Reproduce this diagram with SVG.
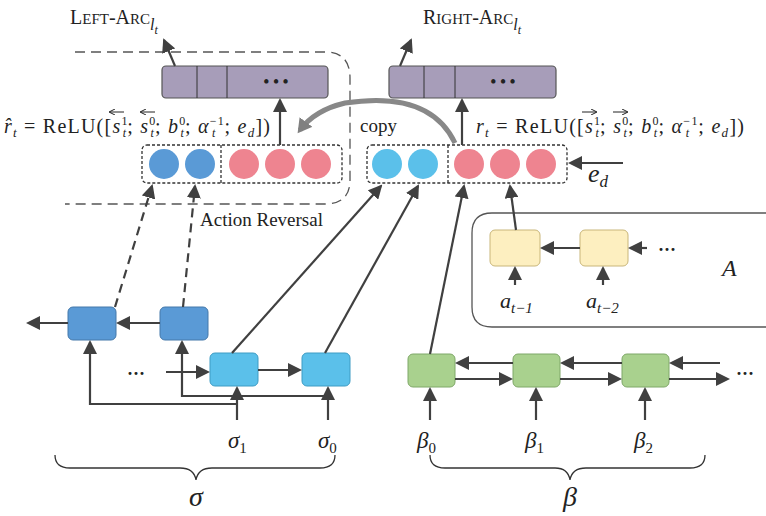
<svg xmlns="http://www.w3.org/2000/svg" width="766" height="516" viewBox="0 0 766 516">
<defs>
<marker id="ahg" markerWidth="16" markerHeight="16" refX="10" refY="8" orient="auto" markerUnits="userSpaceOnUse"><path d="M0,0 L14,8 L0,16 z" fill="#808080"/></marker>
<marker id="ahb" markerWidth="14" markerHeight="14" refX="12" refY="7" orient="auto" markerUnits="userSpaceOnUse"><path d="M0,0 L14,7 L0,14 z" fill="#404040"/></marker>
<marker id="sa" markerWidth="6" markerHeight="6" refX="5" refY="3" orient="auto" markerUnits="userSpaceOnUse"><path d="M0,0 L6,3 L0,6" fill="none" stroke="#222" stroke-width="1"/></marker>
</defs>
<style>
text{font-family:"Liberation Serif",serif;fill:#222}
.m{font-style:italic}
.ln{stroke:#404040;stroke-width:2.2;fill:none}
.arr{stroke:#404040;stroke-width:2.2;fill:none;marker-end:url(#ahb)}
.dsh{stroke:#404040;stroke-width:2.2;fill:none;stroke-dasharray:9,6;marker-end:url(#ahb)}
.pur{fill:#a79db9;stroke:#555;stroke-width:1.2}
.db{fill:#5a9ad6;stroke:#4478aa;stroke-width:1}
.lb{fill:#5bc0ea;stroke:#3e9cc4;stroke-width:1}
.gr{fill:#a9d18e;stroke:#7fa868;stroke-width:1}
.ye{fill:#fdefc0;stroke:#c9b67a;stroke-width:1}
.pk{fill:#ee8490}
.box{fill:none;stroke:#333;stroke-width:1.3;stroke-dasharray:3,2}
.va{stroke:#222;stroke-width:1;marker-end:url(#sa)}
</style>
<g id="region-left"><path d="M75,52 H325 Q350,52 350,78 V180 Q350,204 325,204 H65" fill="none" stroke="#555" stroke-width="1.3" stroke-dasharray="10,6"/></g>
<g id="region-A"><path d="M766,213 H492 Q472,213 472,233 V307 Q472,327 492,327 H766" fill="none" stroke="#555" stroke-width="1.3"/>
<text x="722" y="276" class="m" font-size="24">A</text></g>
<g id="left-out"><rect class="pur" x="162" y="66" width="166" height="32" rx="4"/><line x1="197" y1="66" x2="197" y2="98" stroke="#333"/><line x1="227" y1="66" x2="227" y2="98" stroke="#333"/><text x="276" y="87" text-anchor="middle" font-size="16" font-weight="bold">• • •</text></g>
<g id="right-out"><rect class="pur" x="389" y="66" width="167" height="32" rx="4"/><line x1="424" y1="66" x2="424" y2="98" stroke="#333"/><line x1="455" y1="66" x2="455" y2="98" stroke="#333"/><text x="503" y="87" text-anchor="middle" font-size="16" font-weight="bold">• • •</text></g>
<g id="left-vec"><rect class="box" x="142" y="145" width="200" height="38" rx="5"/><line x1="221" y1="145" x2="221" y2="183" class="box"/>
<circle cx="164" cy="164" r="15" fill="#5a9ad6"/><circle cx="200" cy="164" r="15" fill="#5a9ad6"/><circle class="pk" cx="244" cy="164" r="15"/><circle class="pk" cx="280" cy="164" r="15"/><circle class="pk" cx="316" cy="164" r="15"/></g>
<g id="right-vec"><rect class="box" x="367" y="145" width="200" height="38" rx="5"/><line x1="448" y1="145" x2="448" y2="183" class="box"/>
<circle cx="387" cy="164" r="15" fill="#5bc0ea"/><circle cx="423" cy="164" r="15" fill="#5bc0ea"/><circle class="pk" cx="469" cy="164" r="15"/><circle class="pk" cx="505" cy="164" r="15"/><circle class="pk" cx="541" cy="164" r="15"/></g>
<g id="stack-back"><rect class="db" x="68" y="307" width="48" height="33" rx="5"/><rect class="db" x="160" y="307" width="48" height="33" rx="5"/></g>
<g id="stack-fwd"><rect class="lb" x="210" y="353" width="48" height="33" rx="5"/><rect class="lb" x="302" y="353" width="48" height="33" rx="5"/></g>
<g id="buffer"><rect class="gr" x="408" y="354" width="47" height="33" rx="5"/><rect class="gr" x="513" y="354" width="47" height="33" rx="5"/><rect class="gr" x="622" y="354" width="47" height="33" rx="5"/></g>
<g id="actions"><rect class="ye" x="490" y="230" width="50" height="36" rx="5"/><rect class="ye" x="580" y="230" width="48" height="36" rx="5"/></g>
<g id="connectors">
<line class="arr" x1="175" y1="66" x2="164" y2="40"/>
<line class="arr" x1="400" y1="66" x2="411" y2="40"/>
<line class="arr" x1="280" y1="145" x2="280" y2="100"/>
<line class="arr" x1="462" y1="145" x2="462" y2="100"/>
<path d="M455,143 Q430,90 345,103 Q315,110 300,130" fill="none" stroke="#888" stroke-width="5" marker-end="url(#ahg)"/>
<line class="arr" x1="623" y1="163" x2="570" y2="163"/>
<line class="dsh" x1="115" y1="307" x2="152" y2="186"/>
<line class="dsh" x1="183" y1="307" x2="195" y2="186"/>
<line class="arr" x1="232" y1="353" x2="381" y2="186"/>
<line class="arr" x1="325" y1="353" x2="418" y2="186"/>
<line class="arr" x1="430" y1="354" x2="464" y2="186"/>
<line class="arr" x1="516" y1="230" x2="510" y2="186"/>
<line class="arr" x1="647" y1="248" x2="630" y2="248"/>
<line class="arr" x1="580" y1="248" x2="542" y2="248"/>
<line class="arr" x1="515" y1="285" x2="515" y2="268"/>
<line class="arr" x1="603" y1="285" x2="603" y2="268"/>
<line class="arr" x1="68" y1="323" x2="28" y2="323"/>
<line class="arr" x1="160" y1="323" x2="118" y2="323"/>
<line class="arr" x1="166" y1="372" x2="208" y2="372"/>
<line class="arr" x1="258" y1="370" x2="300" y2="370"/>
<polyline class="ln" points="237,404 90,404 90,350"/><line class="arr" x1="90" y1="352" x2="90" y2="342"/>
<polyline class="ln" points="328,396 182,396 182,350"/><line class="arr" x1="182" y1="352" x2="182" y2="342"/>
<line class="arr" x1="237" y1="420" x2="237" y2="388"/>
<line class="arr" x1="328" y1="420" x2="328" y2="388"/>
<line class="arr" x1="430" y1="420" x2="430" y2="389"/>
<line class="arr" x1="536" y1="420" x2="536" y2="389"/>
<line class="arr" x1="645" y1="420" x2="645" y2="389"/>
<line class="arr" x1="513" y1="363" x2="457" y2="363"/>
<line class="arr" x1="622" y1="363" x2="562" y2="363"/>
<line class="arr" x1="720" y1="363" x2="671" y2="363"/>
<line class="arr" x1="455" y1="379" x2="511" y2="379"/>
<line class="arr" x1="560" y1="379" x2="620" y2="379"/>
<line class="arr" x1="669" y1="379" x2="728" y2="379"/>
<path d="M55,455 Q55,468 70,468 H180 Q194,468 196,480 Q198,468 212,468 H320 Q335,468 335,455" fill="none" stroke="#333" stroke-width="1.3"/>
<path d="M430,455 Q430,468 445,468 H555 Q568,468 570,480 Q572,468 586,468 H690 Q705,468 705,455" fill="none" stroke="#333" stroke-width="1.3"/>
</g>
<g id="vec-arrows">
<line class="va" x1="124" y1="112" x2="110" y2="112"/>
<line class="va" x1="155" y1="112" x2="141" y2="112"/>
<line class="va" x1="582" y1="112" x2="596" y2="112"/>
<line class="va" x1="613" y1="112" x2="627" y2="112"/>
</g>
<g id="labels">
<text x="70" y="24" font-size="20">L<tspan font-size="15">EFT</tspan>-A<tspan font-size="15">RC</tspan><tspan class="m" font-size="16" dy="6">l</tspan><tspan class="m" font-size="12" dy="4">t</tspan></text>
<text x="423" y="24" font-size="20">R<tspan font-size="15">IGHT</tspan>-A<tspan font-size="15">RC</tspan><tspan class="m" font-size="16" dy="6">l</tspan><tspan class="m" font-size="12" dy="4">t</tspan></text>
<text x="4" y="133" font-size="20" textLength="266" lengthAdjust="spacing"><tspan class="m">r̂</tspan><tspan class="m" font-size="13" dy="4">t</tspan><tspan dy="-4"> = ReLU([</tspan><tspan class="m">s</tspan><tspan font-size="12" dy="-8">1</tspan><tspan class="m" font-size="12" dx="-6" dy="12">t</tspan><tspan dy="-4">; </tspan><tspan class="m">s</tspan><tspan font-size="12" dy="-8">0</tspan><tspan class="m" font-size="12" dx="-6" dy="12">t</tspan><tspan dy="-4">; </tspan><tspan class="m">b</tspan><tspan font-size="12" dy="-8">0</tspan><tspan class="m" font-size="12" dx="-6" dy="12">t</tspan><tspan dy="-4">; </tspan><tspan class="m">α</tspan><tspan font-size="12" dy="-8">−1</tspan><tspan class="m" font-size="12" dx="-13" dy="12">t</tspan><tspan dx="8" dy="-4">; </tspan><tspan class="m">e</tspan><tspan class="m" font-size="13" dy="4">d</tspan><tspan dy="-4">])</tspan></text>
<text x="476" y="133" font-size="20" textLength="268" lengthAdjust="spacing"><tspan class="m">r</tspan><tspan class="m" font-size="13" dy="4">t</tspan><tspan dy="-4"> = ReLU([</tspan><tspan class="m">s</tspan><tspan font-size="12" dy="-8">1</tspan><tspan class="m" font-size="12" dx="-6" dy="12">t</tspan><tspan dy="-4">; </tspan><tspan class="m">s</tspan><tspan font-size="12" dy="-8">0</tspan><tspan class="m" font-size="12" dx="-6" dy="12">t</tspan><tspan dy="-4">; </tspan><tspan class="m">b</tspan><tspan font-size="12" dy="-8">0</tspan><tspan class="m" font-size="12" dx="-6" dy="12">t</tspan><tspan dy="-4">; </tspan><tspan class="m">α</tspan><tspan font-size="12" dy="-8">−1</tspan><tspan class="m" font-size="12" dx="-13" dy="12">t</tspan><tspan dx="8" dy="-4">; </tspan><tspan class="m">e</tspan><tspan class="m" font-size="13" dy="4">d</tspan><tspan dy="-4">])</tspan></text>
<text x="360" y="132" font-size="19">copy</text>
<text x="200" y="226" font-size="19">Action Reversal</text>
<text x="588" y="182" class="m" font-size="26">e<tspan font-size="17" dy="5">d</tspan></text>
<text x="500" y="308" class="m" font-size="22">a<tspan font-size="15" dy="5">t−1</tspan></text>
<text x="586" y="308" class="m" font-size="22">a<tspan font-size="15" dy="5">t−2</tspan></text>
<text x="127" y="380" font-size="18" font-weight="bold">···</text>
<text x="736" y="380" font-size="18" font-weight="bold">···</text>
<text x="667" y="256" font-size="18" font-weight="bold" text-anchor="middle">···</text>
<text x="228" y="448" class="m" font-size="23">σ<tspan font-size="15" font-style="normal" dy="5">1</tspan></text>
<text x="318" y="448" class="m" font-size="23">σ<tspan font-size="15" font-style="normal" dy="5">0</tspan></text>
<text x="417" y="448" class="m" font-size="23">β<tspan font-size="15" font-style="normal" dy="5">0</tspan></text>
<text x="525" y="448" class="m" font-size="23">β<tspan font-size="15" font-style="normal" dy="5">1</tspan></text>
<text x="634" y="448" class="m" font-size="23">β<tspan font-size="15" font-style="normal" dy="5">2</tspan></text>
<text x="196" y="506" class="m" font-size="28" text-anchor="middle">σ</text>
<text x="570" y="506" class="m" font-size="28" text-anchor="middle">β</text>
</g>
</svg>
